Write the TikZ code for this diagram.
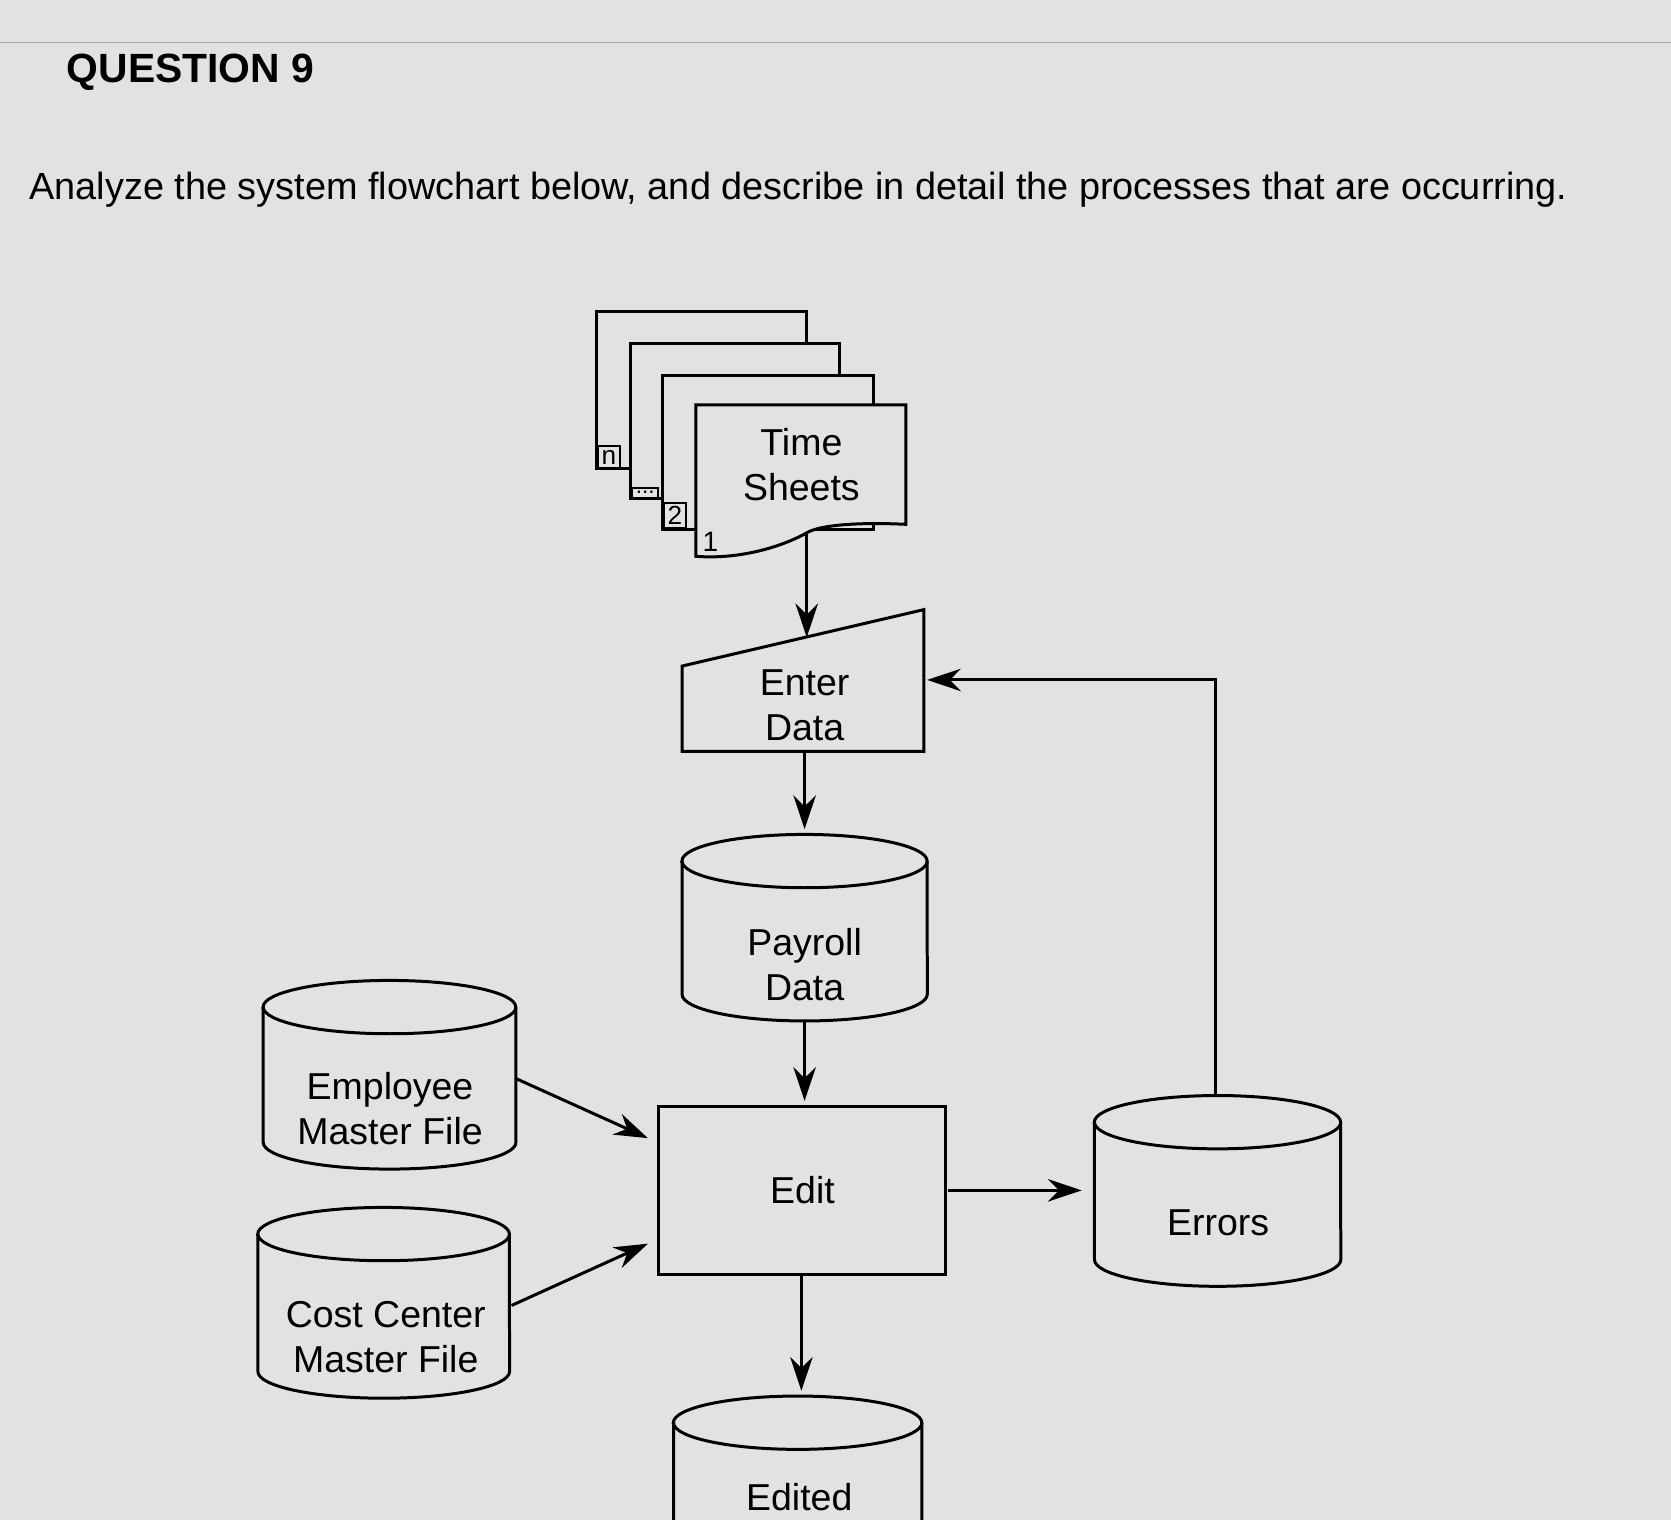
\documentclass[tikz,border=0pt]{standalone}
\usepackage{fontspec}
\setmainfont{Liberation Sans}
\usetikzlibrary{arrows.meta}
\definecolor{bg}{RGB}{226,226,226}
\newcommand\cyl[5]{% name, x1, y1, x2, y2 (reference px, y down)
  \pgfmathsetmacro\rx{(#4-#2)/200}
  \draw[thick,fill=bg] (#2,-#3-25) -- (#2,-#5+25) arc[start angle=180,end angle=360,x radius=\rx cm,y radius=0.25cm]
    -- (#4,-#3-25) arc[start angle=0,end angle=180,x radius=\rx cm,y radius=0.25cm] -- cycle;
  \draw[thick] (#2,-#3-25) arc[start angle=180,end angle=360,x radius=\rx cm,y radius=0.25cm];
  \coordinate (#1) at ({(#2+#4)/2},{-(#3+#5)/2});
}
\begin{document}
\begin{tikzpicture}[x=0.01cm,y=0.01cm,
  lbl/.style={font=\fontsize{10}{12}\selectfont,align=center,inner sep=0pt},
  arr/.style={thick,-{Stealth[length=9pt,width=6pt]}},
  sheet/.style={thick,fill=bg},
  tag/.style={draw,semithick,font=\fontsize{7}{8}\selectfont,inner sep=1pt,fill=bg}]
\fill[bg] (0,0) rectangle (1568,-1426);
\useasboundingbox (0,0) rectangle (1568,-1426);
\draw[gray!70] (0,-40) -- (1568,-40);
\node[anchor=west,inner sep=0pt,font=\fontsize{10.9}{13}\selectfont\bfseries] (q) at (62,-68) {QUESTION 9};
\node[anchor=west,inner sep=0pt,font=\fontsize{10.1}{13}\selectfont] (t) at (27,-178)
  {Analyze the system flowchart below, and describe in detail the processes that are occurring.};
% time sheets
\draw[sheet] (560,-440) rectangle (757,-292);
\draw[sheet] (592,-468) rectangle (788,-322);
\draw[sheet] (622,-497) rectangle (820,-352);
\node[tag,anchor=south west] (n) at (560,-440) {n};
\node[tag,anchor=south west,font=\fontsize{6}{7}\selectfont] (dots) at (592,-468) {...};
\node[tag,anchor=south west] (s2) at (622,-497) {2};
\draw[sheet] (653,-380) -- (850,-380) -- (850,-492)
  .. controls (810,-490) and (770,-492) .. (757,-500)
  .. controls (730,-515) and (690,-525) .. (653,-522) -- cycle;
\node[font=\fontsize{7.5}{8}\selectfont,anchor=south west,inner sep=1pt] (s1) at (655,-522) {1};
\node[lbl] (ts) at (752,-436) {Time\\Sheets};
\coordinate (tsb) at (757,-500);
% enter data
\draw[thick,fill=bg] (640,-625) -- (867,-572) -- (867,-705) -- (640,-705) -- cycle;
\node[lbl] (ed) at (755,-662) {Enter\\Data};
\coordinate (edt) at (757,-598);
\coordinate (edb) at (755,-705);
\coordinate (edr) at (870,-638);
% payroll data
\cyl{pd}{640}{783}{870}{958}
\node[lbl] (pdl) at (755,-905) {Payroll\\Data};
% edit
\draw[thick,fill=bg] (618,-1038) rectangle (887,-1196);
\node[lbl] (edit) at (753,-1117) {Edit};
% errors
\cyl{er}{1027}{1028}{1258}{1207}
\node[lbl] (erl) at (1143,-1147) {Errors};
% employee, cost center
\cyl{em}{247}{920}{484}{1097}
\node[lbl] (eml) at (366,-1040) {Employee\\Master File};
\cyl{cc}{242}{1133}{478}{1312}
\node[lbl] (ccl) at (362,-1255) {Cost Center\\Master File};
% edited
\cyl{eo}{632}{1310}{865}{1480}
\node[lbl] (eol) at (750,-1405) {Edited};
% connectors
\draw[arr] (tsb) -- (edt);
\draw[arr] (edb) -- (755,-778);
\draw[arr] (755,-958) -- (755,-1033);
\draw[arr] (890,-1117) -- (1015,-1117);
\draw[arr] (1141,-1028) -- (1141,-638) -- (edr);
\draw[arr] (484,-1012) -- (608,-1068);
\draw[arr] (480,-1225) -- (608,-1167);
\draw[arr] (752,-1196) -- (752,-1305);
\end{tikzpicture}
\end{document}
